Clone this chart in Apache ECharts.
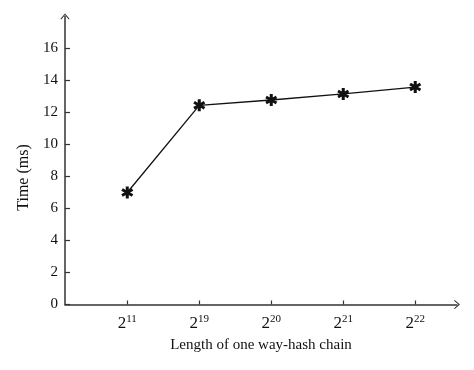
<!DOCTYPE html>
<html>
<head>
<meta charset="utf-8">
<script src="https://cdn.jsdelivr.net/npm/echarts@6/dist/echarts.min.js"></script>
<style>
  html, body { margin: 0; padding: 0; background: #fff; }
  #chart { width: 474px; height: 370px; }
</style>
</head>
<body>
<div id="chart"></div>
<script>
// chain lengths shown as 2^exp
var categories = ['11', '19', '20', '21', '22'];
var timeMs = [7.0, 12.45, 12.78, 13.16, 13.59];
var yTicks = [0, 2, 4, 6, 8, 10, 12, 14, 16];

var font = 'Liberation Serif';
var star = 'path://M-1.5 -6 L1.5 -6 L1.5 6 L-1.5 6 Z' +
  'M4.446 -4.299 L5.946 -1.701 L-4.446 4.299 L-5.946 1.701 Z' +
  'M5.946 1.701 L4.446 4.299 L-5.946 -1.701 L-4.446 -4.299 Z';
var chevron = 'path://M0 0 L6 7 L5 8 L0 2 L-5 8 L-6 7 Z';

var myChart = echarts.init(document.getElementById('chart'));

var option = {
  animation: false,
  grid: { left: 65, right: 17, top: 16.5, bottom: 65.5 },
  xAxis: {
    type: 'value',
    min: -0.865,
    max: 4.58,
    name: 'Length of one way-hash chain',
    nameLocation: 'middle',
    nameGap: 33,
    nameTextStyle: { fontFamily: font, fontSize: 15, color: '#111' },
    splitLine: { show: false },
    axisLine: {
      onZero: false,
      lineStyle: { color: '#333', width: 1.5 },
      symbol: ['none', chevron],
      symbolSize: [9, 6],
      symbolOffset: [0, 0]
    },
    axisTick: { inside: true, length: 4, customValues: [0, 1, 2, 3, 4], lineStyle: { color: '#333', width: 1.2 } },
    axisLabel: {
      customValues: [0, 1, 2, 3, 4],
      margin: 7,
      formatter: function (v) {
        return '{b|2}{s|' + categories[Math.round(v)] + '}';
      },
      rich: {
        b: { fontFamily: font, fontSize: 17, color: '#111', padding: [4, 0, 0, 0] },
        s: { fontFamily: font, fontSize: 11, color: '#111', padding: [0, 0, 6, 0] }
      }
    }
  },
  yAxis: {
    type: 'value',
    min: 0,
    max: 18,
    name: 'Time (ms)',
    nameLocation: 'middle',
    nameGap: 33,
    nameTextStyle: { fontFamily: font, fontSize: 16, color: '#111', padding: [0, 34, 0, 0] },
    splitLine: { show: false },
    axisLine: {
      show: true,
      onZero: false,
      lineStyle: { color: '#333', width: 1.5 },
      symbol: ['none', chevron],
      symbolSize: [9, 6],
      symbolOffset: [0, 0]
    },
    axisTick: { show: true, inside: true, length: 5, customValues: yTicks, lineStyle: { color: '#333', width: 1.2 } },
    axisLabel: {
      customValues: yTicks,
      margin: 7,
      fontFamily: font,
      fontSize: 15,
      color: '#111'
    }
  },
  series: [
    {
      type: 'line',
      data: timeMs.map(function (v, i) { return [i, v]; }),
      symbol: star,
      symbolSize: 12,
      itemStyle: { color: '#111' },
      lineStyle: { color: '#111', width: 1.3 }
    }
  ]
};

myChart.setOption(option);
</script>
</body>
</html>
